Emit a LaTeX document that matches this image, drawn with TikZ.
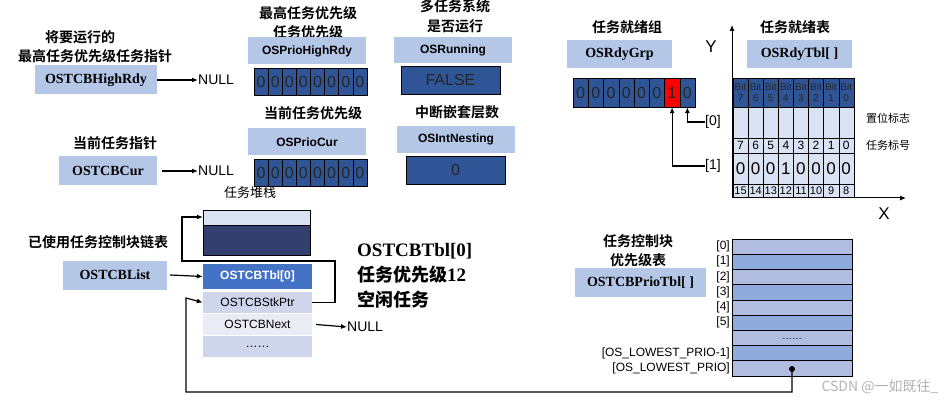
\documentclass[tikz,border=0pt]{standalone}
\usepackage{fontspec}
\setmainfont{Liberation Serif}
\setsansfont{Liberation Sans}
\newfontfamily\cjk{Noto Sans CJK SC}
\newfontfamily\cjkb{Noto Sans CJK SC Bold}
\usetikzlibrary{arrows.meta}
\definecolor{lb}{HTML}{B4C7E7}
\definecolor{db}{HTML}{2F5597}
\definecolor{navy}{HTML}{323F6F}
\definecolor{pale}{HTML}{DAE3F3}
\definecolor{tb}{HTML}{4472C4}
\definecolor{r1}{HTML}{CFD5EA}
\definecolor{r2}{HTML}{E9EBF5}
\definecolor{pa}{HTML}{B0BCE0}
\definecolor{pb}{HTML}{8FAADC}
\definecolor{dtext}{HTML}{262626}
\begin{document}
\begin{tikzpicture}[x=1pt,y=-1pt,
  lab/.style={font=\cjkb\fontsize{14}{15}\selectfont,align=center,inner sep=0},
  sbox/.style={fill=lb,font=\sffamily\bfseries\fontsize{12}{12}\selectfont,inner sep=0},
  tbox/.style={fill=lb,font=\rmfamily\bfseries\fontsize{14}{14}\selectfont,inner sep=0},
  arr/.style={-{Latex[length=6pt,width=5pt]},line width=1.2pt},
  plain/.style={font=\sffamily\fontsize{14}{14}\selectfont,inner sep=0},
  bitc/.style={draw=black,fill=db,text=dtext,minimum height=27pt,inner sep=0,font=\sffamily\fontsize{16}{16}\selectfont}]
\useasboundingbox (0,0) rectangle (950,406);
% left pointers
\node[lab] at (80,37) {将要运行的};
\node[lab] at (95,56) {最高任务优先级任务指针};
\node[tbox,minimum width=122pt,minimum height=29pt] (hr) at (96,80) {OSTCBHighRdy};
\node[plain,anchor=west] (n1) at (198,80) {NULL};
\draw[arr] (hr.east) -- (n1.west);
\node[lab] at (115,143) {当前任务指针};
\node[tbox,minimum width=98pt,minimum height=29pt] (cur) at (108,171) {OSTCBCur};
\node[plain,anchor=west] (n2) at (198,171) {NULL};
\draw[arr] ([xshift=5pt]cur.east) -- (n2.west);
% prio
\node[lab] at (308,13) {最高任务优先级};
\node[lab] at (308,32) {任务优先级};
\node[sbox,minimum width=118pt,minimum height=27pt] (phr) at (307,51) {OSPrioHighRdy};
\foreach \i in {0,...,7}{\node[bitc,minimum width=14.1pt] (a\i) at (261.1+14.1*\i,81.5) {0};}
\node[lab] at (313,113) {当前任务优先级};
\node[sbox,minimum width=118pt,minimum height=27pt] (pc) at (307,142) {OSPrioCur};
\foreach \i in {0,...,7}{\node[bitc,minimum width=14.1pt] (b\i) at (261.1+14.1*\i,172.5) {0};}
% running
\node[lab] at (455,6) {多任务系统};
\node[lab] at (455,26) {是否运行};
\node[sbox,minimum width=118pt,minimum height=26pt] (run) at (453,50) {OSRunning};
\node[bitc,minimum width=99pt,minimum height=28pt] (fal) at (450.5,80) {FALSE};
\node[lab] at (457,112) {中断嵌套层数};
\node[sbox,minimum width=118pt,minimum height=27pt] (nest) at (456,139.5) {OSIntNesting};
\node[bitc,minimum width=99pt,minimum height=28pt] (zero) at (455.5,170) {0};
% rdy grp
\node[lab] at (627,27) {任务就绪组};
\node[tbox,minimum width=105pt,minimum height=28pt] (grp) at (619.5,54) {OSRdyGrp};
\foreach \i/\v/\c in {0/0/db,1/0/db,2/0/db,3/0/db,4/0/db,5/0/db,6/1/red,7/0/db}{\node[bitc,fill=\c,minimum width=15.25pt,minimum height=29pt] (g\i) at (580.6+15.25*\i,92.5) {\v};}
% axes
\node[font=\sffamily\fontsize{17}{17}\selectfont] (Y) at (711,47) {Y};
\node[font=\sffamily\fontsize{17}{17}\selectfont] (X) at (884,214) {X};
\coordinate (o) at (732,198);
\draw[arr,line width=1pt] (o) -- (732,25);
\draw[arr,line width=1pt] (o) -- (906,198);
\node[lab] at (795,27) {任务就绪表};
\node[tbox,minimum width=105pt,minimum height=28pt] (tbl) at (799.5,54) {OSRdyTbl[ ]};
% table
\foreach \i/\b in {0/7,1/6,2/5,3/4,4/3,5/2,6/1,7/0}{
  \pgfmathsetmacro\xl{733+15.1*\i}\pgfmathsetmacro\xr{733+15.1*(\i+1)}
  \draw[fill=db] (\xl,78) rectangle (\xr,107);
  \node[align=center,text=dtext,font=\sffamily\fontsize{10}{11}\selectfont,inner sep=0] at ({(\xl+\xr)/2},92.5) {Bit\\\b};
  \draw[fill=pale] (\xl,107) rectangle (\xr,138);
  \draw[fill=pale] (\xl,138) rectangle (\xr,153);
  \node[font=\sffamily\fontsize{12}{12}\selectfont,inner sep=0] at ({(\xl+\xr)/2},145.5) {\b};
  \draw[fill=pale] (\xl,153) rectangle (\xr,184);
  \draw[fill=pale] (\xl,184) rectangle (\xr,197);
  \pgfmathtruncatemacro\hb{\b+8}
  \node[font=\sffamily\fontsize{11}{11}\selectfont,inner sep=0] at ({(\xl+\xr)/2},190.5) {\hb};
}
\foreach \i/\v in {0/0,1/0,2/0,3/1,4/0,5/0,6/0,7/0}{
  \node[font=\sffamily\fontsize{17}{17}\selectfont,inner sep=0] at (740.5+15.1*\i,168.5) {\v};}
\node[plain] (l0) at (713,122) {[0]};
\node[plain] (l1) at (713,166) {[1]};
\node[font=\cjk\fontsize{11}{11}\selectfont] at (888,118) {置位标志};
\node[font=\cjk\fontsize{11}{11}\selectfont] at (888,145) {任务标号};
\draw[arr] (l1.west) -| (g6.south);
\draw[arr] (l0.west) -| (g7.south);
% stack
\node[font=\cjk\fontsize{13}{13}\selectfont] at (250,193) {任务堆栈};
\draw[fill=pale] (203,210) rectangle (310,225);
\draw[fill=navy] (203,225) rectangle (310,255);
\coordinate (stk) at (203,217);
% list
\node[lab] at (98,242) {已使用任务控制块链表};
\node[tbox,minimum width=104pt,minimum height=29pt] (lst) at (115,275) {OSTCBList};
\node[fill=tb,text=white,minimum width=109pt,minimum height=25pt,inner sep=0,font=\sffamily\bfseries\fontsize{12}{12}\selectfont] (t0) at (257.5,276.5) {OSTCBTbl[0]};
\node[fill=r1,minimum width=109pt,minimum height=21pt,inner sep=0,font=\sffamily\fontsize{12}{12}\selectfont] (sp) at (257.5,302.5) {OSTCBStkPtr};
\node[fill=r2,minimum width=109pt,minimum height=21pt,inner sep=0,font=\sffamily\fontsize{12}{12}\selectfont] (nx) at (257.5,324.5) {OSTCBNext};
\node[fill=r1,minimum width=109pt,minimum height=21pt,inner sep=0,font=\sffamily\fontsize{12}{12}\selectfont] (dt) at (257.5,346.5) {……};
\draw[arr] ([xshift=3pt]lst.east) -- (t0.west);
\draw[arr] (sp.east) -- (335,302.5) -- (335,261) -- (182,261) -- (182,217) -- (stk);
\node[plain,anchor=west] (n3) at (347,327) {NULL};
\draw[arr] ([xshift=4pt]nx.east) -- (n3.west);
\node[anchor=west,align=left,inner sep=0,font=\rmfamily\bfseries\fontsize{19}{25}\selectfont] at (357,276) {OSTCBTbl[0]\\{\cjkb\fontsize{18}{25}\selectfont 任务优先级}12\\{\cjkb\fontsize{18}{25}\selectfont 空闲任务}};
% prio table
\node[lab] at (638,241) {任务控制块};
\node[lab] at (638,260) {优先级表};
\node[tbox,minimum width=131pt,minimum height=29pt] (ptb) at (640.5,282.5) {OSTCBPrioTbl[ ]};
\foreach \i/\t in {0/{[0]},1/{[1]},2/{[2]},3/{[3]},4/{[4]},5/{[5]},6/{},7/{[OS\_LOWEST\_PRIO-1]},8/{[OS\_LOWEST\_PRIO]}}{
  \pgfmathsetmacro\yt{239+15.2*\i}
  \pgfmathtruncatemacro\odd{mod(\i,2)}
  \ifnum\odd=0 \def\cc{pa}\else\def\cc{pb}\fi
  \draw[fill=\cc] (732,\yt) rectangle (852,\yt+15.2);
  \node[anchor=east,inner sep=0,font=\sffamily\fontsize{12}{12}\selectfont] at (730,\yt+7.6) {\t};
}
\node[font=\sffamily\fontsize{10}{10}\selectfont] at (792,339) {……};
\coordinate (dot) at (792,369);
\fill (dot) circle (3pt);
\draw[arr] (dot) -- (792,392) -- (186,392) -- (186,298) -- (sp.west);
\node[text=black!30,font=\cjk\fontsize{14}{14}\selectfont] at (880,387) {CSDN @一如既往\_};
\end{tikzpicture}
\end{document}
